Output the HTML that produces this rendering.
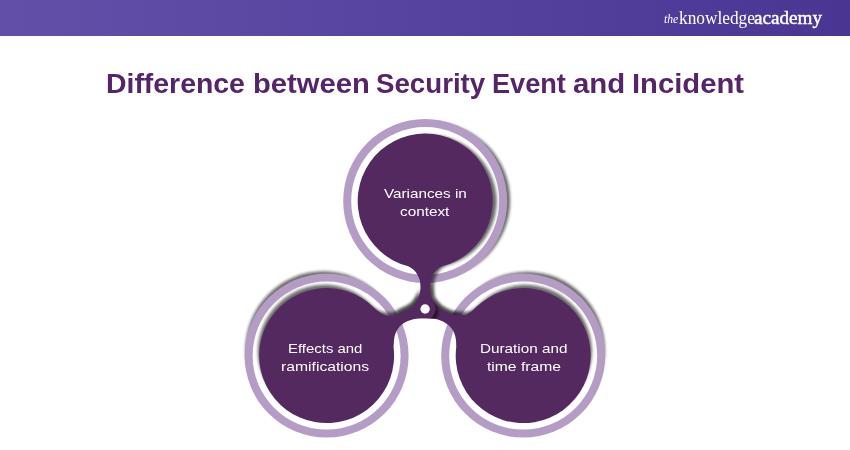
<!DOCTYPE html>
<html><head><meta charset="utf-8"><style>
*{margin:0;padding:0;box-sizing:border-box}
html,body{width:850px;height:450px;overflow:hidden;background:#fff}
body{position:relative;font-family:"Liberation Sans",sans-serif}
.hdr{position:absolute;left:0;top:0;width:850px;height:36px;background:linear-gradient(90deg,#6250a8 0%,#5643a0 50%,#4a3592 100%)}
.w{position:absolute;white-space:nowrap;line-height:60px;transform-origin:0 0}
</style></head><body>
<div class="hdr"></div>
<svg width="850" height="450" viewBox="0 0 850 450" style="position:absolute;left:0;top:0">
<defs>
<filter id="fm" x="-10%" y="-10%" width="120%" height="120%"><feGaussianBlur stdDeviation="2.5"/></filter>
<mask id="ct" maskUnits="userSpaceOnUse" x="0" y="0" width="850" height="450"><polygon fill="#fff" filter="url(#fm)" points="0.0,0.0 850.0,0.0 850.0,230.0 540.0,245.0 500.0,258.0 460.0,285.0 438.0,293.4 425.1,308.7 418.5,293.5 400.0,290.0 380.0,282.0 340.0,262.0 0.0,240.0"/></mask>
<mask id="cr" maskUnits="userSpaceOnUse" x="0" y="0" width="850" height="450"><polygon fill="#fff" filter="url(#fm)" points="425.1,308.7 438.0,293.4 460.0,285.0 500.0,258.0 540.0,245.0 850.0,230.0 850.0,450.0 425.1,450.0"/></mask>
<mask id="cl" maskUnits="userSpaceOnUse" x="0" y="0" width="850" height="450"><polygon fill="#fff" filter="url(#fm)" points="425.1,308.7 425.1,450.0 0.0,450.0 0.0,240.0 340.0,262.0 380.0,282.0 400.0,290.0 418.5,293.5"/></mask>
<filter id="fb" x="-20%" y="-20%" width="140%" height="140%"><feMorphology operator="erode" radius="1.40"/><feGaussianBlur stdDeviation="1.40"/></filter>
<filter id="fc" x="-20%" y="-20%" width="140%" height="140%"><feGaussianBlur stdDeviation="1.40"/></filter>
<filter id="fr" x="-20%" y="-20%" width="140%" height="140%"><feGaussianBlur stdDeviation="1.40"/></filter>
<mask id="mbl" maskUnits="userSpaceOnUse" x="0" y="0" width="850" height="450"><polygon fill="#fff" filter="url(#fm)" points="396.0,318.0 398.0,300.0 410.0,294.0 417.0,290.0 421.0,292.0 424.0,306.0 420.0,318.0"/></mask>
<mask id="mbr" maskUnits="userSpaceOnUse" x="0" y="0" width="850" height="450"><polygon fill="#fff" filter="url(#fm)" points="428.0,286.0 433.0,286.0 436.0,296.0 446.0,306.0 462.0,310.0 462.0,320.0 428.0,320.0"/></mask>
<path id="dk" d="M408.30,266.35 A67.5,67.5 0 1 1 442.10,266.35 C441.47,266.74 439.55,267.71 438.30,268.70 C437.05,269.69 435.65,270.92 434.60,272.30 C433.55,273.68 432.68,275.38 432.00,277.00 C431.32,278.62 430.82,280.33 430.50,282.00 C430.18,283.67 430.13,285.50 430.10,287.00 C430.07,288.50 430.17,289.67 430.30,291.00 C430.43,292.33 430.57,293.65 430.90,295.00 C431.23,296.35 431.65,297.83 432.30,299.10 C432.95,300.37 433.95,301.47 434.80,302.60 C435.65,303.73 436.43,304.87 437.40,305.90 C438.37,306.93 439.35,307.90 440.60,308.80 C441.85,309.70 443.45,310.55 444.90,311.30 C446.35,312.05 447.82,312.77 449.30,313.30 C450.78,313.83 452.32,314.20 453.80,314.50 C455.28,314.80 456.72,315.00 458.20,315.10 C459.68,315.20 461.35,315.22 462.70,315.10 C464.05,314.98 465.15,314.82 466.30,314.40 C467.45,313.98 468.47,313.33 469.60,312.60 C470.73,311.87 471.95,310.96 473.10,310.00 C474.25,309.04 475.93,307.39 476.50,306.86 A67.5,67.5 0 1 1 456.25,347.00 C456.21,345.90 456.23,342.38 456.00,340.40 C455.77,338.42 455.38,336.72 454.90,335.10 C454.42,333.48 453.85,332.03 453.10,330.70 C452.35,329.37 451.43,328.22 450.40,327.10 C449.37,325.98 448.23,324.97 446.90,324.00 C445.57,323.03 444.03,322.08 442.40,321.30 C440.77,320.52 439.02,319.78 437.10,319.30 C435.18,318.82 432.92,318.58 430.90,318.40 C428.88,318.22 426.97,318.20 425.00,318.20 C423.03,318.20 420.82,318.28 419.10,318.40 C417.38,318.52 416.18,318.60 414.70,318.90 C413.22,319.20 411.68,319.68 410.20,320.20 C408.72,320.72 407.28,321.20 405.80,322.00 C404.32,322.80 402.63,323.85 401.30,325.00 C399.97,326.15 398.75,327.52 397.80,328.90 C396.85,330.28 396.20,331.67 395.60,333.30 C395.00,334.93 394.54,336.42 394.20,338.70 C393.86,340.98 393.66,345.62 393.55,347.00 A67.5,67.5 0 1 1 373.90,307.44 C374.63,308.07 376.82,310.11 378.30,311.20 C379.78,312.29 381.32,313.28 382.80,314.00 C384.28,314.72 385.72,315.18 387.20,315.50 C388.68,315.82 390.40,315.93 391.70,315.90 C393.00,315.87 393.90,315.65 395.00,315.30 C396.10,314.95 397.00,314.40 398.30,313.80 C399.60,313.20 401.32,312.40 402.80,311.70 C404.28,311.00 405.72,310.40 407.20,309.60 C408.68,308.80 410.40,307.95 411.70,306.90 C413.00,305.85 414.02,304.62 415.00,303.30 C415.98,301.98 416.87,300.47 417.60,299.00 C418.33,297.53 418.95,296.00 419.40,294.50 C419.85,293.00 420.13,291.53 420.30,290.00 C420.47,288.47 420.50,286.97 420.40,285.30 C420.30,283.63 420.10,281.55 419.70,280.00 C419.30,278.45 418.67,277.33 418.00,276.00 C417.33,274.67 416.65,273.22 415.70,272.00 C414.75,270.78 413.53,269.64 412.30,268.70 C411.07,267.76 408.97,266.74 408.30,266.35 Z"/>
<clipPath id="cdk"><use href="#dk"/></clipPath>
<clipPath id="ccr"><polygon points="425.1,309.0 445.1,274.4 450.8,278.4 455.7,283.3 459.7,289.0 462.7,295.3 464.5,302.1 465.1,309.0 464.5,315.9 462.7,322.7 459.7,329.0 455.7,334.7 450.8,339.6 445.1,343.6 438.8,346.6 432.0,348.4 428.6,348.8"/></clipPath>
</defs>
<circle cx="432.18" cy="200.51" r="78.0" fill="#000" opacity="0.58" filter="url(#fr)"/>
<circle cx="323.53" cy="349.31" r="78.0" fill="#000" opacity="0.58" filter="url(#fr)"/>
<circle cx="526.91" cy="349.66" r="78.0" fill="#000" opacity="0.58" filter="url(#fr)"/>
<circle cx="425.20" cy="201.00" r="82.0" fill="#b49cc4"/>
<circle cx="425.20" cy="201.00" r="74.0" fill="#fff"/>
<circle cx="326.60" cy="355.60" r="82.0" fill="#b49cc4"/>
<circle cx="326.60" cy="355.60" r="74.0" fill="#fff"/>
<circle cx="523.20" cy="355.60" r="82.0" fill="#b49cc4"/>
<circle cx="523.20" cy="355.60" r="74.0" fill="#fff"/>
<g mask="url(#ct)"><use href="#dk" fill="#000" opacity="0.58" transform="translate(4.99,0.35)" filter="url(#fb)"/></g>
<g mask="url(#cr)"><use href="#dk" fill="#000" opacity="0.58" transform="translate(2.35,-4.41)" filter="url(#fb)"/></g>
<g mask="url(#cl)"><use href="#dk" fill="#000" opacity="0.58" transform="translate(-2.35,-4.41)" filter="url(#fb)"/></g>
<g mask="url(#mbl)"><use href="#dk" fill="#000" opacity="0.35" transform="translate(-2.50,-4.33)" filter="url(#fb)"/></g>
<g mask="url(#mbr)"><use href="#dk" fill="#000" opacity="0.35" transform="translate(4.10,-2.87)" filter="url(#fb)"/></g>
<use href="#dk" fill="#542960"/>
<g clip-path="url(#cdk)"><g clip-path="url(#ccr)"><circle cx="429.30" cy="311.70" r="9.2" fill="#000" opacity="0.58" filter="url(#fc)"/></g><circle cx="425.10" cy="309.00" r="10.6" fill="#542960"/></g>
<circle cx="425.10" cy="309.00" r="4.70" fill="#fff"/>
</svg>
<div class="w" style="left:105.79px;top:53.70px;transform:scaleX(1.0323);color:#55256a;font-family:'Liberation Sans',sans-serif;font-size:27.5px;font-weight:bold;">Difference</div>
<div class="w" style="left:252.64px;top:53.70px;transform:scaleX(1.0610);color:#55256a;font-family:'Liberation Sans',sans-serif;font-size:27.5px;font-weight:bold;">between</div>
<div class="w" style="left:375.75px;top:53.70px;transform:scaleX(1.0065);color:#55256a;font-family:'Liberation Sans',sans-serif;font-size:27.5px;font-weight:bold;">Security</div>
<div class="w" style="left:492.37px;top:53.70px;transform:scaleX(0.9869);color:#55256a;font-family:'Liberation Sans',sans-serif;font-size:27.5px;font-weight:bold;">Event</div>
<div class="w" style="left:573.30px;top:53.70px;transform:scaleX(1.0681);color:#55256a;font-family:'Liberation Sans',sans-serif;font-size:27.5px;font-weight:bold;">and</div>
<div class="w" style="left:632.24px;top:53.70px;transform:scaleX(1.0625);color:#55256a;font-family:'Liberation Sans',sans-serif;font-size:27.5px;font-weight:bold;">Incident</div>
<div class="w" style="left:383.72px;top:163.70px;transform:scaleX(1.1294);color:#fff;font-family:'Liberation Sans',sans-serif;font-size:13.5px;">Variances in</div>
<div class="w" style="left:400.23px;top:181.70px;transform:scaleX(1.1326);color:#fff;font-family:'Liberation Sans',sans-serif;font-size:13.5px;">context</div>
<div class="w" style="left:287.69px;top:319.20px;transform:scaleX(1.1053);color:#fff;font-family:'Liberation Sans',sans-serif;font-size:13.5px;">Effects and</div>
<div class="w" style="left:280.94px;top:336.50px;transform:scaleX(1.1636);color:#fff;font-family:'Liberation Sans',sans-serif;font-size:13.5px;">ramifications</div>
<div class="w" style="left:479.67px;top:319.20px;transform:scaleX(1.1311);color:#fff;font-family:'Liberation Sans',sans-serif;font-size:13.5px;">Duration and</div>
<div class="w" style="left:487.11px;top:336.50px;transform:scaleX(1.1587);color:#fff;font-family:'Liberation Sans',sans-serif;font-size:13.5px;">time frame</div>
<div class="w" style="left:664.33px;top:-10.90px;transform:scaleX(0.8949);color:#fff;font-family:'Liberation Serif',serif;font-size:13px;font-style:italic;">the</div>
<div class="w" style="left:678.58px;top:-12.00px;transform:scaleX(0.8876);color:#fff;font-family:'Liberation Serif',serif;font-size:19.5px;">knowledge</div>
<div class="w" style="left:754.21px;top:-12.25px;transform:scaleX(0.9812);color:#fff;font-family:'Liberation Serif',serif;font-size:19.5px;-webkit-text-stroke:0.45px currentColor;">academy</div>
</body></html>
